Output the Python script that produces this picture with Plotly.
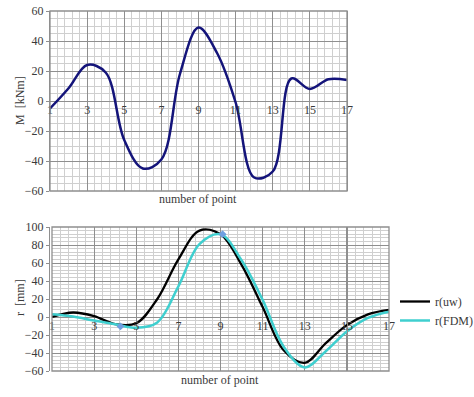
import plotly.graph_objects as go

# ---- data ----
POINTS = list(range(1, 18))
M_KNM = [-5, 8.5, 24, 19, -26, -45, -39, 18, 49, 32, -1, -51, -47, 15, 8, 14.5, 14]
R_UW = [0, 5, 1, -8, -7, 20, 64, 96, 92, 58, 11, -37, -51, -29, -9, 3, 8]
R_FDM = [3, 0.5, -4, -8, -12, -6, 34, 81, 92, 63, 19, -33, -56, -38, -16, -1, 6]
MARK_X = [4.25, 9.1]
MARK_R = [-10.5, 92]
X_TICKS = [1, 3, 5, 7, 9, 11, 13, 15, 17]
M_TICKS = [-60, -40, -20, 0, 20, 40, 60]
R_TICKS = [-60, -40, -20, 0, 20, 40, 60, 80, 100]

W, H = 474, 397
SERIF = "Liberation Serif, DejaVu Serif, serif"
TXT = "#3a3a3a"
MAJ = "#8f8f8f"
MIN = "#cfcfcf"

def px_x(p):
    return p / W

def px_y(p):
    return 1 - p / H

fig = go.Figure()
fig.add_trace(go.Scatter(x=POINTS, y=M_KNM, mode="lines", line=dict(color="#14147a", width=2.5, shape="spline", smoothing=1),
                         xaxis="x", yaxis="y", showlegend=False))
fig.add_trace(go.Scatter(x=POINTS, y=R_UW, mode="lines", name="r(uw)", line=dict(color="#000000", width=2.3, shape="spline", smoothing=1),
                         xaxis="x2", yaxis="y2"))
fig.add_trace(go.Scatter(x=POINTS, y=R_FDM, mode="lines", name="r(FDM)", line=dict(color="#3fcfcf", width=2.5, shape="spline", smoothing=1),
                         xaxis="x2", yaxis="y2"))
fig.add_trace(go.Scatter(x=MARK_X, y=MARK_R, mode="markers", marker=dict(symbol="diamond", size=6, color="#6f9fe0"),
                         xaxis="x2", yaxis="y2", showlegend=False))

tickfont = dict(family=SERIF, size=12, color=TXT)

def xaxis(domain, pos):
    return dict(domain=domain, range=[1, 17], anchor="free", position=pos, automargin=False,
                tickmode="array", tickvals=X_TICKS, ticks="", showline=False, zeroline=False,
                showgrid=True, gridcolor=MAJ, gridwidth=1.2, tickfont=tickfont,
                minor=dict(dtick=0.4, tick0=1, showgrid=True, gridcolor=MIN, gridwidth=1))

def yaxis(domain, rng, vals, minor_dt):
    return dict(domain=domain, range=rng, tickmode="array", tickvals=vals, ticks="outside", ticklen=3,
                tickcolor=MAJ, showline=True, linecolor=MAJ, linewidth=1.2, mirror=True, zeroline=False,
                automargin=False, showgrid=True, gridcolor=MAJ, gridwidth=1.2, tickfont=tickfont,
                minor=dict(dtick=minor_dt, showgrid=True, gridcolor=MIN, gridwidth=1))

top_dom_y = [px_y(191), px_y(11)]
bot_dom_y = [px_y(371), px_y(227)]
zero_top = px_y(101)
zero_bot = px_y(317)

fig.update_layout(
    width=W, height=H, margin=dict(l=0, r=0, t=0, b=0, autoexpand=False),
    paper_bgcolor="white", plot_bgcolor="white",
    xaxis=xaxis([px_x(50), px_x(347)], zero_top),
    yaxis=yaxis(top_dom_y, [-60, 60], M_TICKS, 5),
    xaxis2=xaxis([px_x(52), px_x(389)], zero_bot),
    yaxis2=yaxis(bot_dom_y, [-60, 100], R_TICKS, 4),
    legend=dict(x=px_x(395), y=px_y(287), xanchor="left", yanchor="top", bgcolor="rgba(0,0,0,0)",
                font=dict(family=SERIF, size=12, color=TXT), itemwidth=30, tracegroupgap=0),
    font=dict(family=SERIF, color=TXT),
)

for xd, yd in [("x domain", "y domain"), ("x2 domain", "y2 domain")]:
    fig.add_shape(type="rect", xref=xd, yref=yd, x0=0, x1=1, y0=0, y1=1, line=dict(color=MAJ, width=1.3))

ann = dict(xref="paper", yref="paper", showarrow=False, xanchor="center", yanchor="middle",
           font=dict(family=SERIF, size=12, color=TXT))
fig.add_annotation(x=px_x(198), y=px_y(199), text="number of point", **ann)
fig.add_annotation(x=px_x(220), y=px_y(380), text="number of point", **ann)
fig.add_annotation(x=px_x(20), y=px_y(101), text="M  [kNm]", textangle=-90, **ann)
fig.add_annotation(x=px_x(20), y=px_y(298), text="r  [mm]", textangle=-90, **ann)

fig.write_html("out.html", config={"displayModeBar": False}, post_script="document.body.style.margin='0';")
